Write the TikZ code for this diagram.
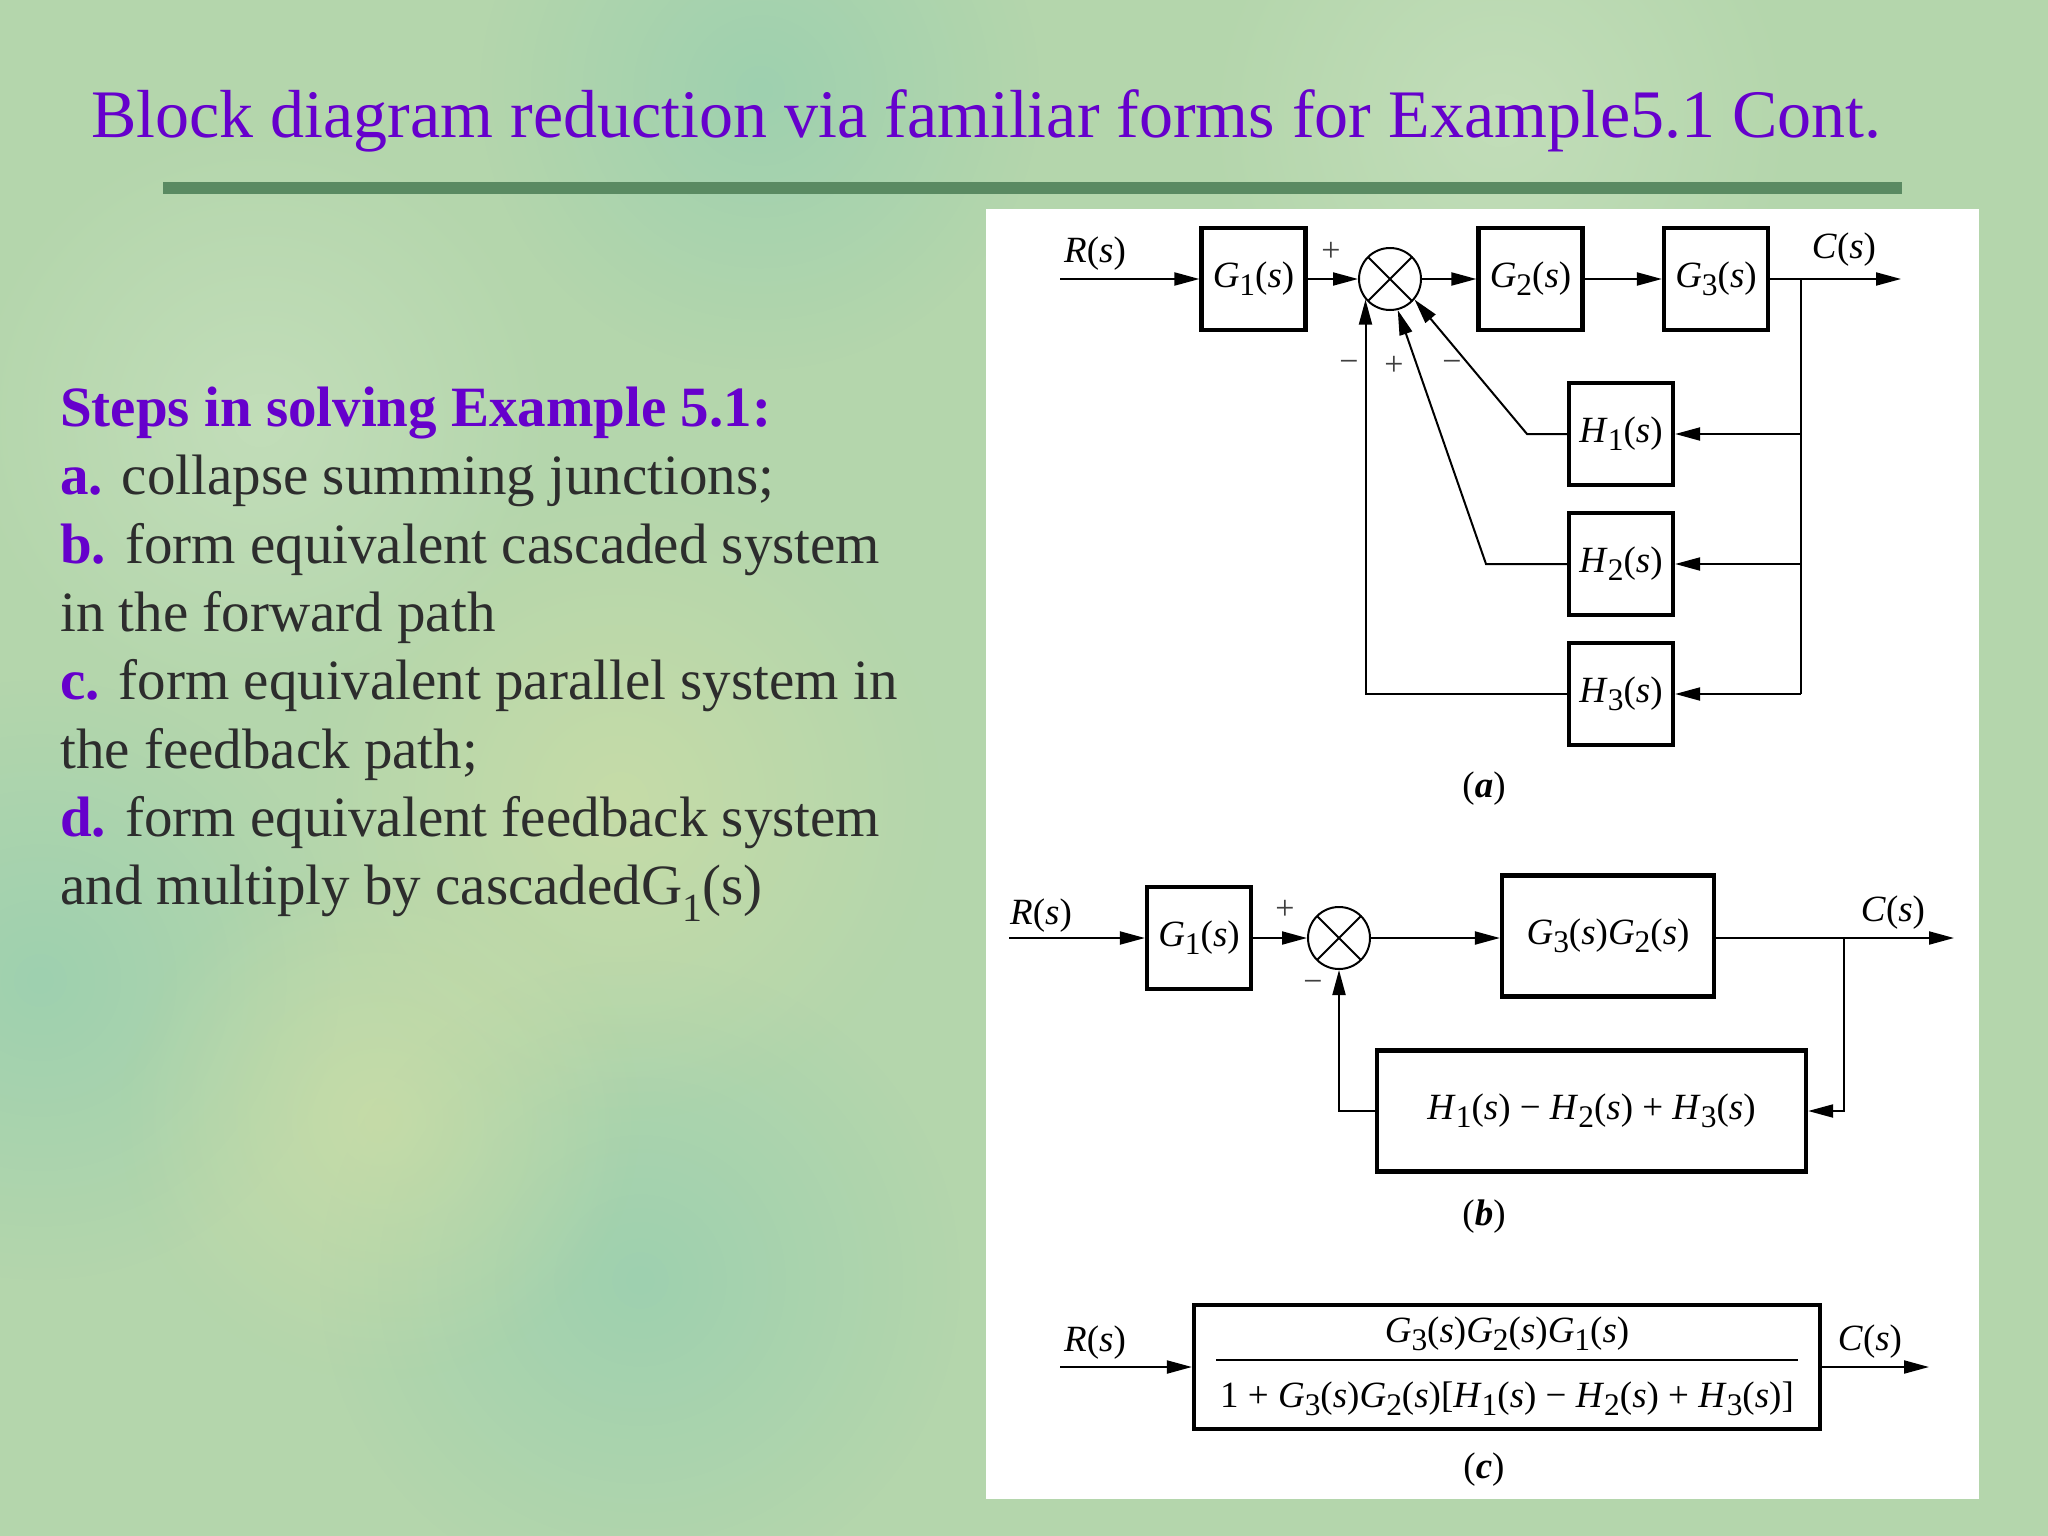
\documentclass[tikz,border=0pt]{standalone}
\usepackage{fontspec}
\setmainfont{Liberation Serif}
\usepackage{tikz}
\usetikzlibrary{arrows.meta,fadings}

\definecolor{slidebg}{RGB}{180,214,172}
\definecolor{bgyellow}{RGB}{212,224,164}
\definecolor{bgteal}{RGB}{140,204,178}
\definecolor{bglight}{RGB}{206,228,196}
\definecolor{titlepurple}{RGB}{102,0,204}
\definecolor{rulegreen}{RGB}{90,138,98}
\definecolor{bodytext}{RGB}{45,45,45}

\tikzfading[name=softspot, inner color=transparent!0, outer color=transparent!100]

\setlength{\arrayrulewidth}{2.5pt}
\newcommand{\lowsub}[1]{\raisebox{-0.22em}{\scalebox{0.85}{#1}}}
\newcommand{\tfn}[2]{\textit{#1}\lowsub{#2}(\textit{s})}
\newcommand{\sgl}[1]{\textit{#1}(\textit{s})}

\tikzset{
  blk/.style={draw, line width=4.2pt, minimum width=104pt, minimum height=102pt,
              inner sep=0pt, fill=white, font=\fontsize{37}{40}\selectfont},
  sumj/.style={draw, circle, line width=2pt, minimum size=62pt, inner sep=0pt, fill=white,
               path picture={\draw[line width=2pt]
                 (path picture bounding box.north west) -- (path picture bounding box.south east)
                 (path picture bounding box.north east) -- (path picture bounding box.south west);}},
  sig/.style={line width=2pt, -{Triangle[length=25pt,width=13pt]}},
  wire/.style={line width=2pt},
  lbl/.style={inner sep=0pt, font=\fontsize{37}{40}\selectfont},
  sgn/.style={inner sep=0pt, font=\fontsize{34}{36}\selectfont, text=black!75},
  body/.style={anchor=base west, inner sep=0pt, text=bodytext, font=\fontsize{57}{68}\selectfont},
  spot/.style={path fading=softspot, opacity=0.55},
}

\begin{document}
\begin{tikzpicture}[x=1pt, y=-1pt, line cap=butt, line join=miter]

  %% ════ slide background ════
  \fill[slidebg] (0,0) rectangle (2048,1536);
  \fill[bgteal, spot] (40,980) circle (300);
  \fill[bgteal, spot] (760,90) circle (280);
  \fill[bgteal, spot] (640,1280) circle (320);
  \fill[bgyellow, spot] (620,800) circle (320);
  \fill[bgyellow, spot] (380,1120) circle (260);
  \fill[bglight, spot] (260,420) circle (300);
  \fill[bglight, spot] (1500,120) circle (300);

  %% ════ title and rule ════
  \node[anchor=base west, inner sep=0pt, text=titlepurple, font=\fontsize{68}{80}\selectfont]
    (title) at (91,138) {Block diagram reduction via familiar forms for Example5.1 Cont.};
  \fill[rulegreen] (163,182) rectangle (1902,194);

  %% ════ steps text ════
  \node[body] (st0) at (60,426) {\textcolor{titlepurple}{\textbf{Steps in solving Example 5.1:}}};
  \node[body] (st1) at (60,494) {\textcolor{titlepurple}{\textbf{a.}} collapse summing junctions;};
  \node[body] (st2) at (60,563) {\textcolor{titlepurple}{\textbf{b.}} form equivalent cascaded system};
  \node[body] (st3) at (60,631) {in the forward path};
  \node[body] (st4) at (60,699) {\textcolor{titlepurple}{\textbf{c.}} form equivalent parallel system in};
  \node[body] (st5) at (60,768) {the feedback path;};
  \node[body] (st6) at (60,836) {\textcolor{titlepurple}{\textbf{d.}} form equivalent feedback system};
  \node[body] (st7) at (60,904) {and multiply by cascadedG\textsubscript{1}(s)};

  %% ════ white panel ════
  \fill[white] (986,209) rectangle (1979,1499);

  %% ════ (a) original diagram ════
  \coordinate (ina) at (1060,279);
  \node[blk] (g1a) at (1253.5,279) {\tfn{G}{1}};
  \node[sumj] (suma) at (1390,279) {};
  \node[blk] (g2a) at (1530.5,279) {\tfn{G}{2}};
  \node[blk] (g3a) at (1716,279) {\tfn{G}{3}};
  \coordinate (bra) at (1801,279);
  \coordinate (outa) at (1901,279);
  \node[blk] (h1a) at (1621,434) {\tfn{H}{1}};
  \node[blk] (h2a) at (1621,564) {\tfn{H}{2}};
  \node[blk] (h3a) at (1621,694) {\tfn{H}{3}};
  \coordinate (k1) at (1527,434);
  \coordinate (k2) at (1486,564);

  \draw[sig] (ina) -- (g1a.west);
  \draw[sig] (g1a.east) -- (suma.west);
  \draw[sig] (suma.east) -- (g2a.west);
  \draw[sig] (g2a.east) -- (g3a.west);
  \draw[sig] (g3a.east) -- (outa);
  \draw[wire] (bra) -- (bra |- h3a);
  \draw[sig] (bra |- h1a) -- (h1a.east);
  \draw[sig] (bra |- h2a) -- (h2a.east);
  \draw[sig] (bra |- h3a) -- (h3a.east);
  \draw[sig] (h1a.west) -- (k1) -- (suma.-40);
  \draw[sig] (h2a.west) -- (k2) -- (suma.-76);
  \draw[sig] (h3a.west) -| (suma.-140);

  \node[lbl] (ra) at (1095,254) {\sgl{R}};
  \node[lbl] (ca) at (1844,250) {\sgl{C}};
  \node[sgn] (pa) at (1331,252) {+};
  \node[sgn] (m3a) at (1349,366) {−};
  \node[sgn] (p2a) at (1394,366) {+};
  \node[sgn] (m1a) at (1452,366) {−};
  \node[lbl] (capa) at (1484,789) {(\textbf{\textit{a}})};

  %% ════ (b) cascaded + parallel ════
  \coordinate (inb) at (1009,938);
  \node[blk] (g1b) at (1199,938) {\tfn{G}{1}};
  \node[sumj] (sumb) at (1339,938) {};
  \node[blk, minimum width=212pt, minimum height=121pt] (gb) at (1608,936) {\tfn{G}{3}\tfn{G}{2}};
  \node[blk, minimum width=429pt, minimum height=121pt] (hb) at (1591.5,1111)
    {\tfn{H}{1} − \tfn{H}{2} + \tfn{H}{3}};
  \coordinate (brb) at (1844,938);
  \coordinate (outb) at (1954,938);

  \draw[sig] (inb) -- (g1b.west);
  \draw[sig] (g1b.east) -- (sumb.west);
  \draw[sig] (sumb.east) -- (gb.west |- sumb);
  \draw[sig] (gb.east |- sumb) -- (outb);
  \draw[sig] (brb) |- (hb.east);
  \draw[sig] (hb.west) -| (sumb.south);

  \node[lbl] (rb) at (1041,916) {\sgl{R}};
  \node[lbl] (cb) at (1893,913) {\sgl{C}};
  \node[sgn] (pb) at (1285,910) {+};
  \node[sgn] (mb) at (1313,986) {−};
  \node[lbl] (capb) at (1484,1217) {(\textbf{\textit{b}})};

  %% ════ (c) closed loop ════
  \coordinate (inc) at (1060,1367);
  \node[blk, minimum width=626pt, minimum height=124pt, font=\fontsize{37}{40}\selectfont] (tfc) at (1507,1367)
    {\begin{tabular}{@{\hspace{4pt}}c@{\hspace{4pt}}}
       \tfn{G}{3}\tfn{G}{2}\tfn{G}{1}\\[4pt]\hline
       \rule{0pt}{46pt}1 + \tfn{G}{3}\tfn{G}{2}[\tfn{H}{1} − \tfn{H}{2} + \tfn{H}{3}]
     \end{tabular}};
  \coordinate (outc) at (1929,1367);

  \draw[sig] (inc) -- (tfc.west);
  \draw[sig] (tfc.east) -- (outc);

  \node[lbl] (rc) at (1095,1343) {\sgl{R}};
  \node[lbl] (cc) at (1870,1342) {\sgl{C}};
  \node[lbl] (capc) at (1484,1470) {(\textbf{\textit{c}})};

  % fix the canvas to the slide size
  \pgfresetboundingbox
  \path[use as bounding box] (0,0) rectangle (2048,1536);
\end{tikzpicture}
\end{document}
